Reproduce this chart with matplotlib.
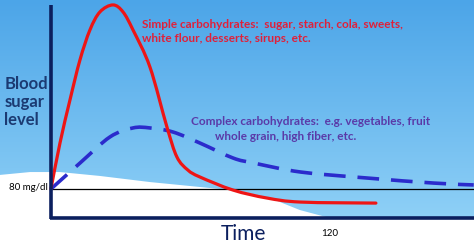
import matplotlib.pyplot as plt
import numpy as np
from matplotlib.path import Path
from matplotlib.patches import PathPatch

# time in minutes, blood sugar in mg/dl
simple_t = [0, 3.9, 8.2, 12.5, 16.8, 21.1, 26.7, 31.0, 35.3, 42.6, 49.9, 54.2, 58.9, 64.1, 78.3, 92.9, 107.5, 139.8]
simple_y = [80, 111.7, 141.4, 169.0, 189.7, 202.1, 206.9, 202.1, 189.7, 164.1, 122.8, 102.1, 93.1, 88.3, 79.3, 73.8, 71.0, 70.3]

complex_t = [0, 12.5, 25.4, 35.3, 42.6, 52.5, 64.1, 78.3, 87.3, 107.5, 135.9, 164.7, 181.9]
complex_y = [80, 97.9, 115.9, 122.1, 122.1, 119.3, 111.7, 101.4, 97.9, 91.7, 87.6, 84.1, 82.8]

baseline = 80
time_tick = 120

# white wave in the background (decoration)
wave_t = [-22, -9.0, 3.9, 21.1, 42.6, 64.1, 81.3, 94.2, 107.1, 120, 132.9, 182]
wave_y = [89.7, 91.7, 91.7, 89.0, 84.8, 81.4, 78.6, 73.8, 65.5, 60, 56.6, 55.2]

x0, x1 = -21.9, 182.0
y0, y1 = 42.1, 210.3


def smooth_path(xs, ys):
    # Catmull-Rom through the points, drawn as cubic Bezier segments
    p = np.column_stack([xs, ys]).astype(float)
    verts = [p[0]]
    codes = [Path.MOVETO]
    for i in range(len(p) - 1):
        a = p[i - 1] if i > 0 else p[i]
        b, c = p[i], p[i + 1]
        d = p[i + 2] if i + 2 < len(p) else p[i + 1]
        verts += [b + (c - a) / 6, c - (d - b) / 6, c]
        codes += [Path.CURVE4] * 3
    return Path(verts, codes)


fig = plt.figure(figsize=(4.74, 2.44), dpi=100)
ax = fig.add_axes([0, 0, 1, 1])
ax.set_xlim(x0, x1)
ax.set_ylim(y0, y1)
ax.axis('off')

# blue gradient background
top = np.array([76, 165, 232]) / 255
bot = np.array([150, 213, 248]) / 255
g = np.linspace(0, 1, 256)[:, None]
grad = top[None, :] * (1 - g) + bot[None, :] * g
grad = np.repeat(grad[:, None, :], 2, axis=1)
ax.imshow(grad, extent=[x0, x1, y0, y1], aspect='auto', zorder=0)
ax.fill_between(wave_t, wave_y, y0, color='white', zorder=1, lw=0)
ax.fill_between([x0, x1], [60, 60], y0, color='white', zorder=1, lw=0)

ax.plot([0, x1], [baseline, baseline], color='black', lw=0.9, zorder=2)

ax.add_patch(PathPatch(smooth_path(complex_t, complex_y), fill=False, edgecolor='#2b2bcc',
                       lw=2.6, linestyle=(0, (6, 3.3)), capstyle='butt', zorder=3))
ax.add_patch(PathPatch(smooth_path(simple_t, simple_y), fill=False, edgecolor='#ee1515',
                       lw=2.3, capstyle='round', joinstyle='round', zorder=4))

navy = '#0b1f5e'
ax.plot([0, 0], [59.5, 207], color=navy, lw=2.6, solid_capstyle='butt', zorder=5)
ax.plot([-0.6, x1], [60, 60], color=navy, lw=2.6, solid_capstyle='butt', zorder=5)

font = 'Lato'
ax.text(-20, 140, 'Blood\nsugar\nlevel', color='#1b3a72', fontsize=12, fontweight='bold',
        family=font, va='center', ha='left', linespacing=1.15, zorder=6)
ax.text(-1.5, baseline + 1, '80 mg/dl', color='black', fontsize=7, family=font,
        va='center', ha='right', zorder=6)
ax.text(83, 44.6, 'Time', color='#0b1f5e', fontsize=15, family=font,
        va='baseline', ha='center', zorder=6)
ax.text(time_tick, 49, str(time_tick), color='black', fontsize=7, family=font,
        va='center', ha='center', zorder=6)

ax.text(39.2, 188.5, 'Simple carbohydrates:  sugar, starch, cola, sweets,\nwhite flour, desserts, sirups, etc.',
        color='#e0203a', fontsize=8.5, fontweight='bold', family=font, va='center', ha='left',
        linespacing=1.35, zorder=6)
ax.text(60.2, 126.5, 'Complex carbohydrates:  e.g. vegetables, fruit',
        color='#5a3aa8', fontsize=8.5, fontweight='bold', family=font, va='center', ha='left', zorder=6)
ax.text(70.5, 116, 'whole grain, high fiber, etc.',
        color='#5a3aa8', fontsize=8.5, fontweight='bold', family=font, va='center', ha='left', zorder=6)

fig.savefig('out.png', dpi=100)
